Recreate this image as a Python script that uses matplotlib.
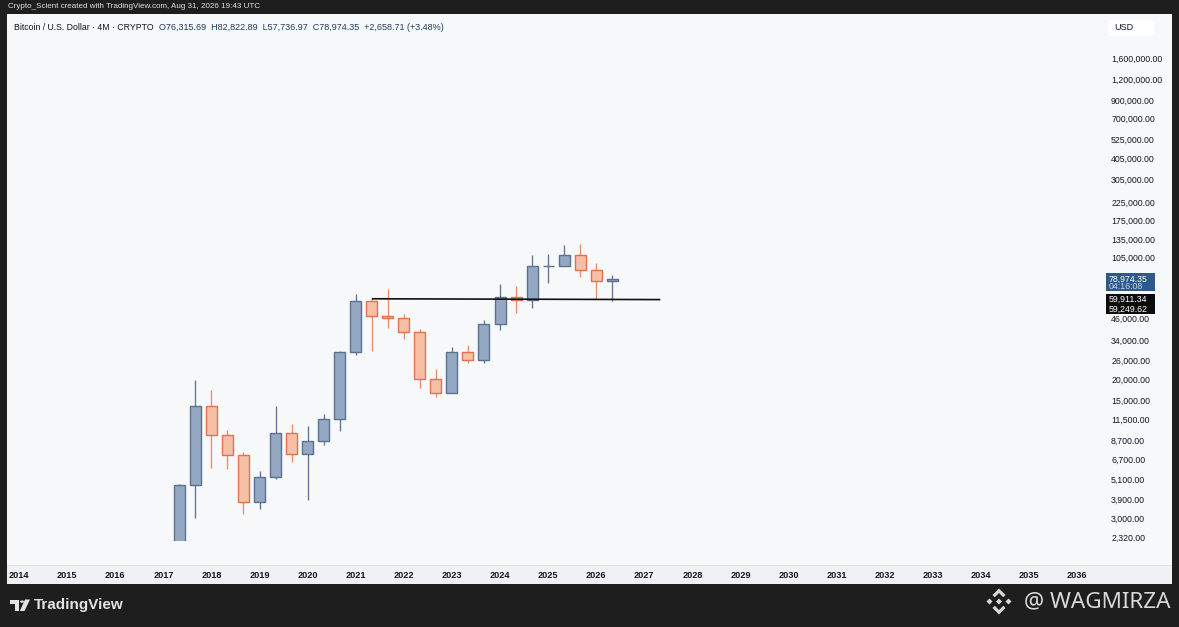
import numpy as np
import matplotlib
matplotlib.use("Agg")
import matplotlib.pyplot as plt
from matplotlib.patches import Rectangle, Polygon, Circle, FancyBboxPatch
from matplotlib.transforms import blended_transform_factory
from matplotlib.ticker import NullLocator, FixedLocator, FixedFormatter

plt.rcParams['font.family'] = ['Liberation Sans', 'DejaVu Sans']

# ---------------- data (4-month candles, BTC/USD) ----------------
periods = ["2017-05", "2017-09", "2018-01", "2018-05", "2018-09", "2019-01", "2019-05",
           "2019-09", "2020-01", "2020-05", "2020-09", "2021-01", "2021-05", "2021-09",
           "2022-01", "2022-05", "2022-09", "2023-01", "2023-05", "2023-09", "2024-01",
           "2024-05", "2024-09", "2025-01", "2025-05", "2025-09", "2026-01", "2026-05"]
opens = [1350, 4700, 13850, 9290, 7070, 3720, 5280,
         9600, 7170, 8610, 11650, 29100, 57900, 47450,
         46300, 37900, 20000, 16630, 29100, 25990, 42200,
         61000, 59000, 93400, 94200, 108900, 88400, 76315.69]
highs = [4760, 19800, 17260, 9980, 7370, 5700, 13850,
         10900, 10500, 12400, 29300, 64200, 59500, 68900,
         48500, 39800, 22880, 31000, 31800, 44700, 73500,
         71500, 108900, 109800, 125000, 126200, 97600, 82822.89]
lows = [1800, 3000, 5930, 5860, 3160, 3400, 5150,
        6450, 3850, 8150, 9870, 28000, 29400, 40000,
        34700, 17660, 15600, 16500, 25000, 24900, 39000,
        49500, 52600, 74500, 93300, 80600, 60000, 57736.97]
closes = [4700, 13850, 9290, 7070, 3720, 5280, 9600,
          7170, 8610, 11650, 29100, 57900, 47450, 46300,
          37900, 20000, 16630, 29100, 25990, 42200, 61000,
          59000, 93400, 94200, 108900, 88400, 76315.64, 78974.35]

year_labels = list(range(2014, 2037))
price_ticks = [2320, 3000, 3900, 5100, 6700, 8700, 11500, 15000, 20000, 26000, 34000,
               46000, 105000, 135000, 175000, 225000, 305000, 405000, 525000, 700000,
               900000, 1200000, 1600000]
level_periods = ["2021-05", "2027-05"]
level_values = [59911.34, 59249.62]
countdown = "04:16:08"

# ---------------- figure ----------------
W, H = 1179, 627
fig = plt.figure(figsize=(W / 100, H / 100), dpi=100)
fig.patch.set_facecolor('#1e1e1e')


def fx(px):
    return px / W


def fy(py):
    return 1 - py / H


def frect(x0, y0, x1, y1, **kw):
    r = Rectangle((fx(x0), fy(y1)), fx(x1 - x0), (y1 - y0) / H,
                  transform=fig.transFigure, **kw)
    fig.add_artist(r)
    return r


# chart panel backgrounds
frect(7, 14, 1172, 584, facecolor='#f7f8fa', edgecolor='none', zorder=-5)
frect(7, 565, 1172, 584, facecolor='#f0f1f4', edgecolor='none', zorder=-4)
frect(7, 564.5, 1172, 565.5, facecolor='#e1e3e8', edgecolor='none', zorder=-3)
frect(7, 540.6, 1100, 541.4, facecolor='#eceef2', edgecolor='none', zorder=-3)

ax = fig.add_axes([fx(8), fy(541), fx(1100 - 8), (541 - 15) / H])
ax.set_facecolor('none')
for s in ax.spines.values():
    s.set_visible(False)

ax.set_yscale('log')
ax.set_ylim(2196, 2.882e6)
ax.set_xlim(2013.771, 2036.474)


def to_x(p):
    return int(p[:4]) + (int(p[5:7]) - 1) / 12.0


x = np.array([to_x(p) for p in periods])
o = np.array(opens, float)
h = np.array(highs, float)
l = np.array(lows, float)
c = np.array(closes, float)
up = c >= o
dn = ~up

up_fill, up_edge, up_wick = '#95a8c2', '#5b7191', '#63789a'
dn_fill, dn_edge, dn_wick = '#f6c0a7', '#df7251', '#e98f73'
bw = 0.229

ax.vlines(x[up], l[up], h[up], color=up_wick, lw=1.0, zorder=2)
ax.vlines(x[dn], l[dn], h[dn], color=dn_wick, lw=1.0, zorder=2)
ax.bar(x[up], np.abs(c[up] - o[up]), bottom=np.minimum(o[up], c[up]), width=bw,
       facecolor=up_fill, edgecolor=up_edge, lw=1.0, zorder=3)
ax.bar(x[dn], np.abs(c[dn] - o[dn]), bottom=np.minimum(o[dn], c[dn]), width=bw,
       facecolor=dn_fill, edgecolor=dn_edge, lw=1.0, zorder=3)

# horizontal level line
ax.plot([to_x(p) for p in level_periods], level_values, color='#111111', lw=1.2, zorder=4,
        solid_capstyle='butt')

# price axis
ax.yaxis.tick_right()
ax.yaxis.set_major_locator(FixedLocator(price_ticks))
ax.yaxis.set_major_formatter(FixedFormatter([f"{v:,.2f}" for v in price_ticks]))
ax.yaxis.set_minor_locator(NullLocator())
ax.tick_params(axis='y', length=0, pad=8, labelsize=6.3, labelcolor='#131722')
ax.set_xticks([])

# time axis labels
trans = blended_transform_factory(ax.transData, fig.transFigure)
for yr in year_labels:
    ax.text(yr, fy(575.5), str(yr), transform=trans, ha='center', va='center',
            fontsize=6.6, fontweight='bold', color='#131722', clip_on=False)


def price_px(v):
    return H - ax.transData.transform((2020, v))[1]


# last price label
yl = price_px(c[-1])
frect(1106, yl - 5.5, 1155, yl + 12.5, facecolor='#2c5a8c', edgecolor='none', zorder=5)
fig.text(fx(1109), fy(yl + 0.3), f"{c[-1]:,.2f}", fontsize=6.3, color='white',
         va='center', ha='left', zorder=6)
fig.text(fx(1109), fy(yl + 7.8), countdown, fontsize=6.3, color='#c7d3e5',
         va='center', ha='left', zorder=6)

# level labels (stacked)
y1 = price_px(level_values[0])
for i, v in enumerate(level_values):
    yy = y1 + i * 10.4
    frect(1106, yy - 5.2, 1155, yy + 5.2, facecolor='#0c0c0c', edgecolor='none', zorder=5)
    fig.text(fx(1109), fy(yy + 0.3), f"{v:,.2f}", fontsize=6.3, color='white',
             va='center', ha='left', zorder=6)

# USD box
fig.add_artist(FancyBboxPatch((fx(1108), fy(36)), fx(46), 16 / H,
                              boxstyle="round,pad=0,rounding_size=0.004",
                              transform=fig.transFigure, facecolor='white',
                              edgecolor='none', zorder=1))
fig.text(fx(1114), fy(28), "USD", fontsize=6.5, color='#131722', va='center', zorder=2)

# header texts
fig.text(fx(8), fy(7), "Crypto_Scient created with TradingView.com, Aug 31, 2026 19:43 UTC",
         fontsize=5.8, color='#e0e2e8', va='center')
fig.text(fx(14), fy(27.5), "Bitcoin / U.S. Dollar · 4M · CRYPTO", fontsize=6.3,
         color='#131722', va='center')
chg = c[-1] - c[-2]
pct = chg / c[-2] * 100
ohlc = (f"O{o[-1]:,.2f}  H{h[-1]:,.2f}  L{l[-1]:,.2f}  C{c[-1]:,.2f}  "
        f"{chg:+,.2f} ({pct:+.2f}%)")
fig.text(fx(159), fy(27.5), ohlc, fontsize=6.5, color='#1f3a60', va='center')

# footer: TradingView logo + wordmark
logo_col = '#e3e3e3'


def fpoly(pts, **kw):
    p = Polygon([(fx(a), fy(b)) for a, b in pts], closed=True,
                transform=fig.transFigure, **kw)
    fig.add_artist(p)


fpoly([(10, 599.5), (19, 599.5), (19, 611), (15, 611), (15, 603.5), (10, 603.5)],
      facecolor=logo_col, edgecolor='none')
fig.add_artist(Circle((fx(22), fy(601.6)), 2.1 / W, transform=fig.transFigure,
                      facecolor=logo_col, edgecolor='none'))
fpoly([(25, 599.5), (30, 599.5), (24.5, 611), (19.8, 611)], facecolor=logo_col, edgecolor='none')
fig.text(fx(34), fy(605.5), "TradingView", fontsize=11, fontweight='bold',
         color=logo_col, va='center', ha='left')

# footer: Binance-like logo + handle
cx, cy, s = 999, 601.5, 12.5
bcol = '#d9d9d9'


def bpoly(pts):
    fpoly([(cx + s * u, cy - s * v) for u, v in pts], facecolor=bcol, edgecolor='none')


d = 0.24
bpoly([(0, d), (d, 0), (0, -d), (-d, 0)])
bpoly([(-0.76, d), (-0.76 + d, 0), (-0.76, -d), (-0.76 - d, 0)])
bpoly([(0.76, d), (0.76 + d, 0), (0.76, -d), (0.76 - d, 0)])
bpoly([(-0.52, 0.52), (0, 1.04), (0.52, 0.52), (0.34, 0.34), (0, 0.68), (-0.34, 0.34)])
bpoly([(-0.52, -0.52), (0, -1.04), (0.52, -0.52), (0.34, -0.34), (0, -0.68), (-0.34, -0.34)])
fig.text(fx(1170), fy(602), "@ WAGMIRZA", fontsize=16.2, color='#d9d9d9',
         va='center', ha='right', family=['Noto Sans', 'DejaVu Sans'], fontweight='light')

fig.savefig("out.png", dpi=100, facecolor=fig.get_facecolor())
